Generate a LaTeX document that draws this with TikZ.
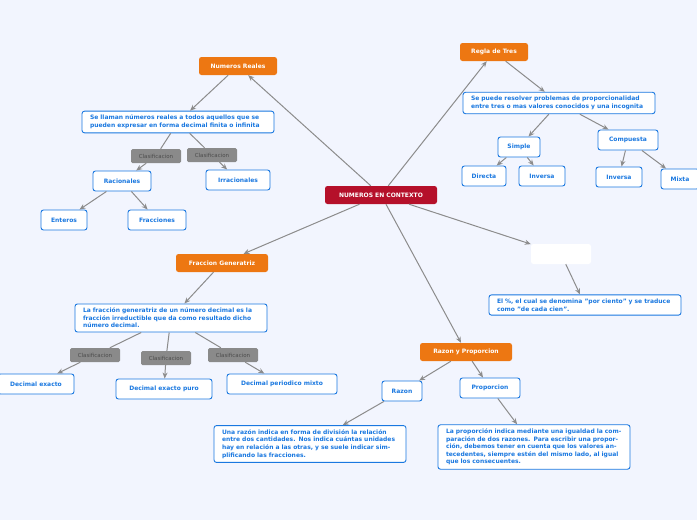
\documentclass[tikz,border=0pt]{standalone}
\usepackage{fontspec}
\setmainfont{DejaVu Sans}
\usetikzlibrary{arrows.meta}
\definecolor{bg}{HTML}{F2F5FE}
\definecolor{org}{HTML}{ED7712}
\definecolor{crim}{HTML}{B5102A}
\definecolor{blu}{HTML}{1A78E0}
\definecolor{gry}{HTML}{8A8A8A}
\definecolor{ln}{HTML}{8C8C8C}
\begin{document}
\begin{tikzpicture}[x=1pt,y=-1pt,
 base/.style={font=\bfseries\fontsize{6}{7.6}\selectfont,inner sep=0pt,rounded corners=2.5pt,align=center},
 main/.style={base,fill=crim,text=white,minimum width=112pt,minimum height=18pt},
 topic/.style={base,fill=org,text=white,minimum height=18pt},
 leaf/.style={base,fill=white,draw=blu,line width=0.9pt,text=blu,minimum height=20pt},
 desc/.style={base,fill=white,draw=blu,line width=0.9pt,text=blu,align=left,text width=176pt,minimum width=192pt,inner xsep=8pt,inner ysep=4pt},
 clas/.style={base,font=\fontsize{5.5}{6}\selectfont,fill=gry,text=black!70,minimum width=50pt,minimum height=14pt,rounded corners=1.5pt},
 con/.style={draw=ln,line width=1pt,-{Stealth[length=6pt,width=5pt]}},
 pl/.style={draw=ln,line width=1pt}]
\fill[bg] (0,0) rectangle (697,520);
\useasboundingbox (0,0) rectangle (697,520);
\node[main] (m) at (381,195) {NUMEROS EN CONTEXTO};
\node[topic,minimum width=78pt] (nr) at (238,66) {Numeros Reales};
\node[desc] (d1) at (178,122) {Se llaman números reales a todos aquellos que se pueden expresar en forma decimal finita o infinita};
\node[clas] (c1) at (156,156) {Clasificacion};
\node[clas] (c2) at (212,155) {Clasificacion};
\node[leaf,minimum width=58pt] (rac) at (122,181) {Racionales};
\node[leaf,minimum width=64pt] (irr) at (238,180) {Irracionales};
\node[leaf,minimum width=46pt] (ent) at (64,220) {Enteros};
\node[leaf,minimum width=58pt] (fra) at (157,220) {Fracciones};
\node[topic,minimum width=92pt] (fg) at (222,263) {Fraccion Generatriz};
\node[desc] (d2) at (171,318) {La fracción generatriz de un número decimal es la fracción irreductible que da como resultado dicho número decimal.};
\node[clas] (c3) at (95,355) {Clasificacion};
\node[clas] (c4) at (166,358) {Clasificacion};
\node[clas] (c5) at (233,355) {Clasificacion};
\node[leaf,minimum width=76pt] (de) at (36,384) {Decimal exacto};
\node[leaf,minimum width=96pt] (dep) at (164,389) {Decimal exacto puro};
\node[leaf,minimum width=110pt] (dpm) at (282,384) {Decimal periodico mixto};
\node[topic,minimum width=92pt] (rp) at (466,352) {Razon y Proporcion};
\node[leaf,minimum width=40pt] (raz) at (402,391) {Razon};
\node[leaf,minimum width=60pt] (pro) at (490,388) {Proporcion};
\node[desc] (d4) at (310,444) {Una razón indica en forma de división la relación entre dos cantidades. Nos indica cuántas unidades hay en relación a las otras, y se suele indicar simplificando las fracciones.};
\node[desc] (d5) at (534,447) {La proporción indica mediante una igualdad la comparación de dos razones. Para escribir una proporción, debemos tener en cuenta que los valores antecedentes, siempre estén del mismo lado, al igual que los consecuentes.};
\node[topic,minimum width=68pt] (rt) at (494,52) {Regla de Tres};
\node[desc] (d3) at (559,103) {Se puede resolver problemas de proporcionalidad entre tres o mas valores conocidos y una incognita};
\node[leaf,minimum width=42pt] (sim) at (519,147) {Simple};
\node[leaf,minimum width=60pt] (com) at (628,140) {Compuesta};
\node[leaf,minimum width=44pt] (dir) at (484,176) {Directa};
\node[leaf,minimum width=46pt] (inv) at (542,176) {Inversa};
\node[leaf,minimum width=46pt] (inv2) at (619,177) {Inversa};
\node[leaf,minimum width=38pt] (mix) at (680,179) {Mixta};
\node[base,fill=white,minimum width=60pt,minimum height=20pt] (bl) at (561,254) {};
\node[desc] (d6) at (585,305) {El \%, el cual se denomina "por ciento" y se traduce como "de cada cien".};
\draw[con] (m) -- (nr);
\draw[con] (m) -- (fg);
\draw[con] (m) -- (rt);
\draw[con] (m) -- (bl);
\draw[con] (m) -- (rp);
\draw[con] (nr) -- (d1);
\draw[pl] (d1) -- (c1); \draw[con] (c1) -- (rac);
\draw[pl] (d1) -- (c2); \draw[con] (c2) -- (irr);
\draw[con] (rac) -- (ent);
\draw[con] (rac) -- (fra);
\draw[con] (fg) -- (d2);
\draw[pl] (d2) -- (c3); \draw[con] (c3) -- (de);
\draw[pl] (d2) -- (c4); \draw[con] (c4) -- (dep);
\draw[pl] (d2) -- (c5); \draw[con] (c5) -- (dpm);
\draw[con] (rp) -- (raz);
\draw[con] (rp) -- (pro);
\draw[con] (raz) -- (d4);
\draw[con] (pro) -- (d5);
\draw[con] (rt) -- (d3);
\draw[con] (d3) -- (sim);
\draw[con] (d3) -- (com);
\draw[con] (sim) -- (dir);
\draw[con] (sim) -- (inv);
\draw[con] (com) -- (inv2);
\draw[con] (com) -- (mix);
\draw[con] (bl) -- (d6);
\end{tikzpicture}
\end{document}
